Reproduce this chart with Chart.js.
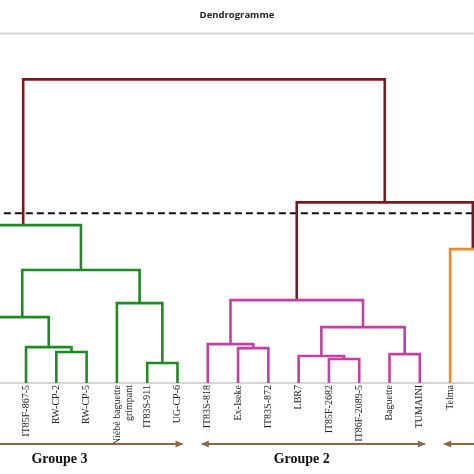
<!DOCTYPE html>
<html>
<head>
<meta charset="utf-8">
<script src="https://cdn.jsdelivr.net/npm/chart.js@4"></script>
<style>
  html, body { margin: 0; padding: 0; background: #fff; overflow: hidden; width: 474px; height: 474px; }
  #wrap { position: absolute; left: -60px; top: 0; width: 594px; height: 474px; }
</style>
</head>
<body>
<div id="wrap"><canvas id="myChart" width="594" height="474"></canvas></div>
<script>
// leaves, left to right (outer ones are cropped out of the picture)
const leaves = [
  '', 'UG-CP-8', 'IT85F-867-5', 'RW-CP-2', 'RW-CP-5', ['Niébé baguette', 'grimpant'],
  'IT83S-911', 'UG-CP-6', 'IT83S-818', 'Ex-Iseke', 'IT83S-872', 'LBR7',
  'IT85F-2682', 'IT86F-2089-5', 'Baguette', 'TUMAINI', 'Telma', '', '',
];

// merges: node ids 0..18 are leaves, merge k gets id 19 + k
const mergeA = [3, 2, 1, 6, 5, 21, 0, 9, 8, 12, 11, 14, 29, 27, 17, 16, 32, 25];
const mergeB = [4, 19, 20, 7, 22, 23, 24, 10, 26, 13, 28, 15, 30, 31, 18, 33, 34, 35];
const mergeHeight = [10.2, 11.8, 21.7, 6.6, 26.3, 37.2, 52.0, 11.5, 12.8, 7.9, 8.9, 9.5, 18.4, 27.3, 30, 44.1, 59.5, 100];
const mergeGroup = ['g3', 'g3', 'g3', 'g3', 'g3', 'g3', 'g3', 'g2', 'g2', 'g2', 'g2', 'g2', 'g2', 'g2', 'g1', 'g1', 'top', 'top'];
const cutHeight = 55.9;

const groups = ['Groupe 3', 'Groupe 2', 'Groupe 1'];
const groupFirst = [0, 8, 16];
const groupLast = [7, 15, 18];

const colors = { g3: '#1f8a22', g2: '#c2409e', g1: '#f08a24', top: '#7a1a1e' };

// node position (x = mean of children, like the usual dendrogram layout)
const nodeX = leaves.map((_, i) => i);
const nodeH = leaves.map(() => 0);
mergeA.forEach((a, k) => {
  nodeX.push((nodeX[a] + nodeX[mergeB[k]]) / 2);
  nodeH.push(mergeHeight[k]);
});

const datasets = mergeA.map((a, k) => {
  const b = mergeB[k];
  const h = mergeHeight[k];
  return {
    data: [
      { x: nodeX[a], y: nodeH[a] },
      { x: nodeX[a], y: h },
      { x: nodeX[b], y: h },
      { x: nodeX[b], y: nodeH[b] },
    ],
    borderColor: colors[mergeGroup[k]],
    borderWidth: 2.6,
    pointRadius: 0,
    tension: 0,
    clip: false,
  };
});

datasets.push({
  data: [{ x: -2, y: cutHeight }, { x: 20, y: cutHeight }],
  borderColor: '#111',
  borderWidth: 2,
  borderDash: [7, 4],
  pointRadius: 0,
  clip: false,
});

const extras = {
  id: 'extras',
  afterDraw(chart) {
    const ctx = chart.ctx;
    const xs = chart.scales.x;
    ctx.save();
    // title + rule
    ctx.fillStyle = '#222';
    ctx.font = 'bold 9.5px "Open Sans", "Liberation Sans", sans-serif';
    ctx.textAlign = 'center';
    ctx.textBaseline = 'middle';
    ctx.fillText('Dendrogramme', chart.width / 2, 15);
    ctx.strokeStyle = '#d9d9d9';
    ctx.lineWidth = 2;
    ctx.beginPath();
    ctx.moveTo(0, 33.5);
    ctx.lineTo(chart.width, 33.5);
    ctx.stroke();

    // group arrows
    const y = 444;
    ctx.lineWidth = 1.8;
    groups.forEach((g, i) => {
      const x0 = xs.getPixelForValue(groupFirst[i]) - 6;
      const x1 = xs.getPixelForValue(groupLast[i]) + 5;
      ctx.strokeStyle = '#8b6a47';
      ctx.fillStyle = '#8b6a47';
      ctx.beginPath();
      ctx.moveTo(x0, y);
      ctx.lineTo(x1, y);
      ctx.stroke();
      [[x1, 1], [x0, -1]].forEach(([px, d]) => {
        ctx.beginPath();
        ctx.moveTo(px + d * 1, y);
        ctx.lineTo(px - d * 7, y - 3.5);
        ctx.lineTo(px - d * 7, y + 3.5);
        ctx.closePath();
        ctx.fill();
      });
      ctx.fillStyle = '#111';
      ctx.font = 'bold 14px "Liberation Serif", "Times New Roman", serif';
      ctx.textBaseline = 'alphabetic';
      ctx.fillText(g, x0 + 100, 463);
    });
    ctx.restore();
  },
};

new Chart(document.querySelector('#myChart'), {
  type: 'line',
  data: { datasets },
  options: {
    responsive: false,
    animation: false,
    layout: { padding: { top: 49, left: 0, right: 0, bottom: 0 } },
    plugins: { legend: { display: false }, tooltip: { enabled: false } },
    scales: {
      x: {
        type: 'linear',
        min: -0.84,
        max: 18.77,
        grid: { display: false, drawTicks: false },
        border: { display: true, color: '#d6d6d6', width: 2 },
        afterBuildTicks: (s) => {
          s.ticks = leaves.map((_, i) => ({ value: i }));
        },
        afterFit: (s) => {
          s.height = 91;
        },
        ticks: {
          autoSkip: false,
          minRotation: 90,
          maxRotation: 90,
          padding: 2,
          color: '#222',
          font: { family: '"Liberation Serif", "Times New Roman", serif', size: 10 },
          callback: (v) => leaves[v],
        },
      },
      y: { display: false, min: 0, max: 110 },
    },
  },
  plugins: [extras],
});
</script>
</body>
</html>
